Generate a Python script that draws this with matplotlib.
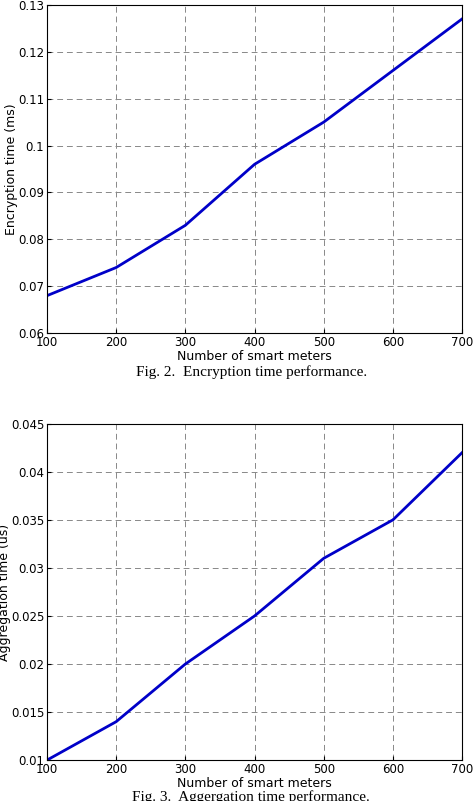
import matplotlib
matplotlib.use("Agg")
import matplotlib.pyplot as plt

meters = [100, 200, 300, 400, 500, 600, 700]
enc_time = [0.068, 0.074, 0.083, 0.096, 0.105, 0.116, 0.127]
agg_time = [0.010, 0.014, 0.020, 0.025, 0.031, 0.035, 0.042]

fig = plt.figure(figsize=(4.74, 8.01), dpi=100)
ax1 = fig.add_axes([0.099, 0.584, 0.876, 0.410])
ax2 = fig.add_axes([0.099, 0.051, 0.876, 0.420])

def style(ax, y, ylim, yticks, yt_labels, ylabel):
    ax.plot(meters, y, color="#0000c8", lw=2)
    ax.set_xlim(100, 700)
    ax.set_ylim(*ylim)
    ax.set_xticks(meters)
    ax.set_yticks(yticks)
    ax.set_yticklabels(yt_labels)
    ax.grid(True, color="#888888", ls=(0, (6, 4)), lw=0.7)
    ax.tick_params(labelsize=8.5, direction="in", length=3, pad=2)
    ax.set_xlabel("Number of smart meters", fontsize=9, labelpad=1)
    ax.set_ylabel(ylabel, fontsize=9, labelpad=0)
    for s in ax.spines.values():
        s.set_linewidth(0.8)

style(ax1, enc_time, (0.06, 0.13),
      [0.06, 0.07, 0.08, 0.09, 0.10, 0.11, 0.12, 0.13],
      ["0.06", "0.07", "0.08", "0.09", "0.1", "0.11", "0.12", "0.13"],
      "Encryption time (ms)")
style(ax2, agg_time, (0.01, 0.045),
      [0.01, 0.015, 0.02, 0.025, 0.03, 0.035, 0.04, 0.045],
      ["0.01", "0.015", "0.02", "0.025", "0.03", "0.035", "0.04", "0.045"],
      "Aggregation time (us)")

fig.text(0.53, 1 - 372 / 801, "Fig. 2.  Encryption time performance.",
         ha="center", va="center", fontsize=11, family="Liberation Serif")
fig.text(0.53, 1 - 797 / 801, "Fig. 3.  Aggergation time performance.",
         ha="center", va="center", fontsize=11, family="Liberation Serif")

fig.savefig("out.png", dpi=100)
